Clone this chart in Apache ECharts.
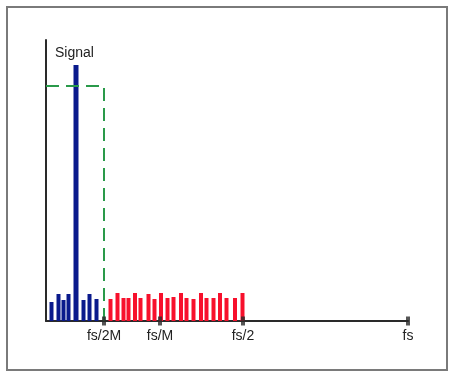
<!DOCTYPE html>
<html>
<head>
<meta charset="utf-8">
<script src="https://cdn.jsdelivr.net/npm/echarts@6/dist/echarts.min.js"></script>
<style>
html,body{margin:0;padding:0;background:#fff;}
#chart{width:454px;height:380px;}
</style>
</head>
<body>
<div id="chart"></div>
<script>
// Data (x in frequency units along the axis, y in amplitude units)
const tickPositions = [58, 114, 197, 362];
const tickLabels = ['fs/2M', 'fs/M', 'fs/2', 'fs'];

const blueX = [5.5, 12.5, 17.5, 22.5, 37.5, 43.5, 50.5];
const blueY = [19, 27, 21, 27, 21, 27, 22];

const spikeX = [29.5];
const spikeY = [256];

const redX = [64.5, 71.5, 77.5, 82.5, 89, 94.5, 102.5, 108.5, 115, 121.5, 127.5, 135, 140.5, 147.5, 155, 160.5, 167.5, 174, 180.5, 189, 196.5];
const redY = [22, 28, 23, 23, 28, 23, 27, 22, 28, 23, 24, 28, 23, 22, 28, 23, 23, 28, 23, 23, 28];

const filterX = [0, 58, 58];
const filterY = [235, 235, 0];

const zip = (xs, ys) => xs.map((x, i) => [x, ys[i]]);

const chart = echarts.init(document.getElementById('chart'));
chart.setOption({
  animation: false,
  backgroundColor: '#fff',
  grid: { left: 46, right: 46, top: 40, bottom: 59 },
  graphic: [
    { type: 'rect', shape: { x: 7, y: 7, width: 440, height: 363 },
      style: { fill: 'none', stroke: '#7a7a7a', lineWidth: 2 }, z: -1 },
    { type: 'text', left: 55, top: 46,
      style: { text: 'Signal', fontSize: 14, fill: '#222', fontFamily: 'Liberation Sans, Arial, sans-serif' } }
  ],
  xAxis: {
    type: 'value', min: 0, max: 362,
    axisLine: { show: true, onZero: false, lineStyle: { color: '#2a2a2a', width: 2 } },
    axisTick: { show: false },
    splitLine: { show: false },
    axisLabel: {
      customValues: tickPositions,
      formatter: v => tickLabels[tickPositions.indexOf(v)] || '',
      color: '#222', fontSize: 14, margin: 8,
      fontFamily: 'Liberation Sans, Arial, sans-serif'
    }
  },
  yAxis: {
    type: 'value', min: 0, max: 281,
    axisLine: { show: true, lineStyle: { color: '#2a2a2a', width: 2 } },
    axisTick: { show: false },
    axisLabel: { show: false },
    splitLine: { show: false }
  },
  series: [
    { type: 'bar', data: zip(blueX, blueY), barWidth: 4, barGap: '-100%',
      itemStyle: { color: '#0a1a8c' } },
    { type: 'bar', data: zip(spikeX, spikeY), barWidth: 5, barGap: '-100%',
      itemStyle: { color: '#0a1a8c' } },
    { type: 'bar', data: zip(redX, redY), barWidth: 4, barGap: '-100%',
      itemStyle: { color: '#f7102c' } },
    { type: 'line', data: zip(filterX, filterY), symbol: 'none', z: 5,
      lineStyle: { color: '#2a9a4a', width: 2, type: [13, 7] } },
    { type: 'scatter', data: tickPositions.map(x => [x, 0]), symbol: 'rect',
      symbolSize: [4, 9], itemStyle: { color: '#2a2a2a' }, z: 6, silent: true }
  ]
});
</script>
</body>
</html>
